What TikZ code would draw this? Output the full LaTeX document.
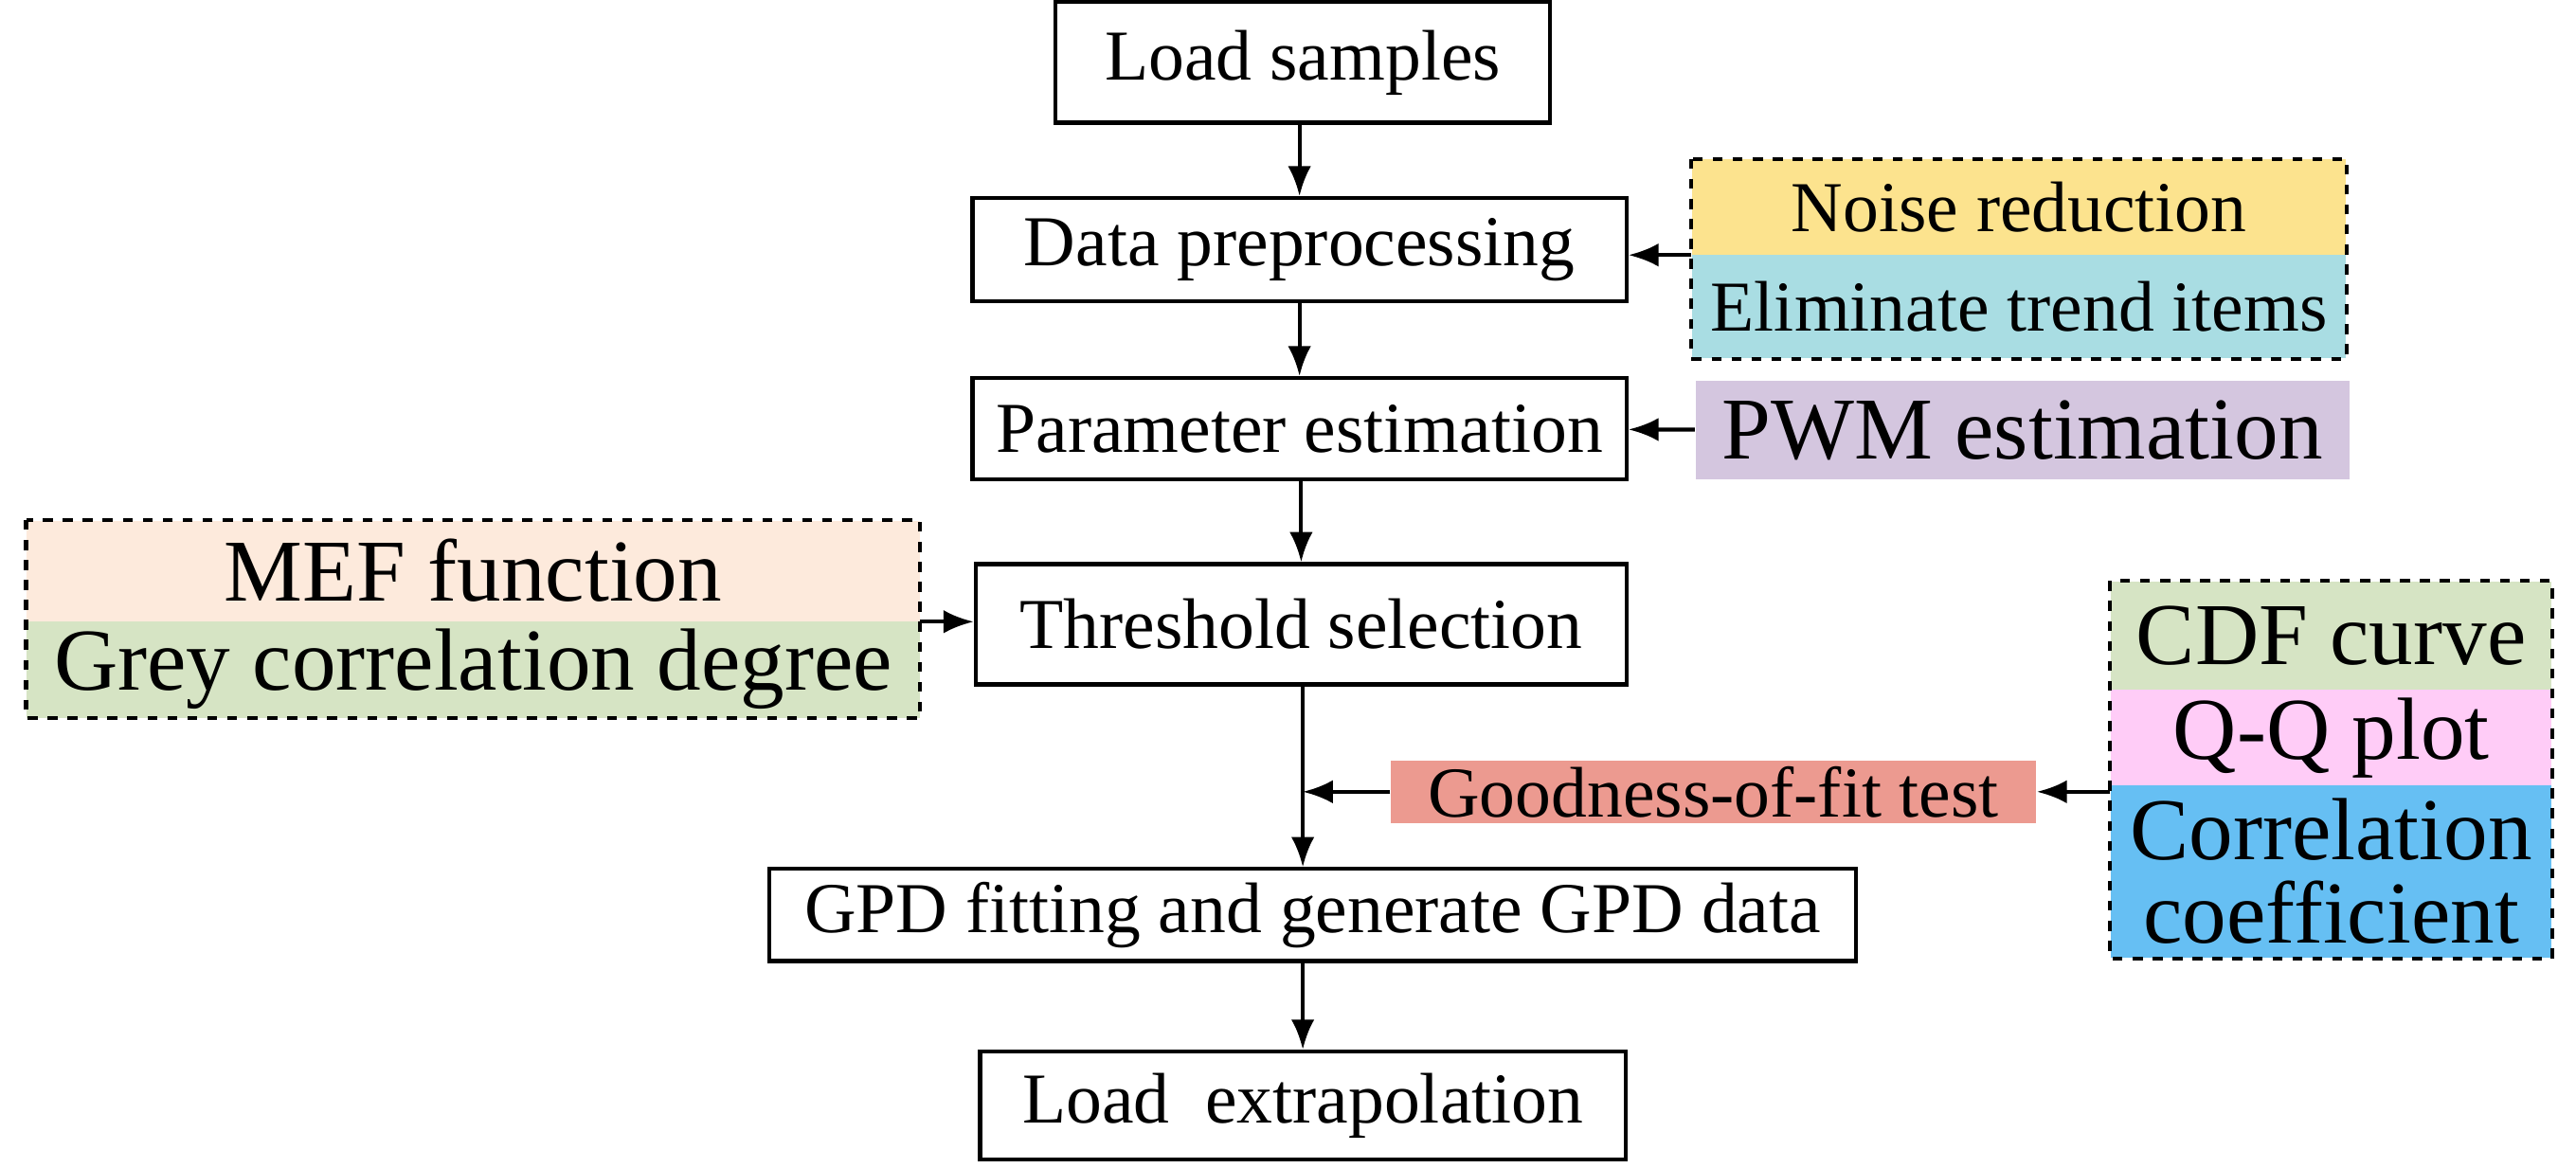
\documentclass[tikz,border=0pt]{standalone}
\usepackage{fontspec}
\setmainfont{Liberation Serif}
\usetikzlibrary{arrows.meta,calc}
\definecolor{cyel}{HTML}{FCE38E}
\definecolor{ccya}{HTML}{A9DDE3}
\definecolor{cpur}{HTML}{D4C6DF}
\definecolor{cpea}{HTML}{FDEADC}
\definecolor{cgrn}{HTML}{D6E4C4}
\definecolor{cred}{HTML}{EC9A90}
\definecolor{cpnk}{HTML}{FFCCF7}
\definecolor{cblu}{HTML}{66BFF3}
\begin{document}
\begin{tikzpicture}[x=0.01734cm,y=-0.01734cm,
  box/.style={draw,line width=1.2pt,font=\fontsize{21.5}{24}\selectfont,inner sep=0pt},
  fbox/.style={inner sep=0pt,font=\fontsize{21.5}{24}\selectfont},
  big/.style={font=\fontsize{26.5}{29}\selectfont},
  grp/.style={draw,dashed,line width=1.2pt},
  arr/.style={-{Latex[length=9pt,width=7pt]},line width=1.2pt}]
\useasboundingbox (0,0) rectangle (1568,711);
% main flow
\node[box,minimum width=5.22cm,minimum height=1.27cm] (load) at (793,38) {Load samples};
\node[box,minimum width=6.90cm,minimum height=1.09cm] (pre) at (791,152) {Data preprocessing};
\node[box,minimum width=6.90cm,minimum height=1.07cm] (par) at (791,261) {Parameter estimation};
\node[box,minimum width=6.87cm,minimum height=1.27cm] (thr) at (792,380) {Threshold selection};
\node[box,minimum width=11.46cm,minimum height=0.97cm] (gpd) at (799,557) {GPD fitting and generate GPD data};
\node[box,minimum width=6.81cm,minimum height=1.14cm] (ext) at (793,673) {Load\ \ extrapolation};
\coordinate (j) at (793,482);
\draw[arr] (load.south -| pre) -- (pre);
\draw[arr] (pre) -- (par);
\draw[arr] (par.south -| thr) -- (thr);
\draw[arr] (thr.south -| j) -- (gpd.north -| j);
\draw[arr] (gpd.south -| ext) -- (ext);
% noise group
\node[fbox,fill=cyel,minimum width=6.90cm,minimum height=1.00cm] (noise) at (1229,126) {Noise reduction};
\node[fbox,fill=ccya,minimum width=6.90cm,minimum height=1.09cm] (trend) at (1229,186.5) {Eliminate trend items};
\draw[grp] (noise.north west) rectangle (trend.south east);
\coordinate (g1) at (noise.south west);
\draw[arr] (g1) -- (g1 -| pre.east);
% pwm
\node[fbox,big,fill=cpur,minimum width=6.90cm,minimum height=1.04cm] (pwm) at (1231,262) {PWM estimation};
\draw[arr] (pwm) -- (par);
% MEF group
\node[fbox,big,fill=cpea,minimum width=9.42cm,minimum height=1.06cm] (mef) at (288,347.5) {MEF function};
\node[fbox,big,fill=cgrn,minimum width=9.42cm,minimum height=1.02cm] (grey) at (288,407.5) {Grey correlation degree};
\draw[grp] (mef.north west) rectangle (grey.south east);
\coordinate (g2) at (mef.south east);
\draw[arr] (g2) -- (g2 -| thr.west);
% goodness
\node[fbox,fill=cred,minimum width=6.81cm,minimum height=0.66cm] (gof) at (1043,482) {Goodness-of-fit test};
\draw[arr] (gof) -- (j);
% right group
\node[fbox,big,fill=cgrn,minimum width=4.65cm,minimum height=1.14cm] (cdf) at (1419,387) {CDF curve};
\node[fbox,big,fill=cpnk,minimum width=4.65cm,minimum height=1.01cm] (qq) at (1419,449) {Q-Q plot};
\node[fbox,big,fill=cblu,minimum width=4.65cm,minimum height=1.82cm,align=center] (cor) at (1419,530.5) {Correlation\\[-4pt]coefficient};
\draw[grp] (cdf.north west) rectangle (cor.south east);
\draw[arr] (cdf.west |- gof) -- (gof);
\end{tikzpicture}
\end{document}
